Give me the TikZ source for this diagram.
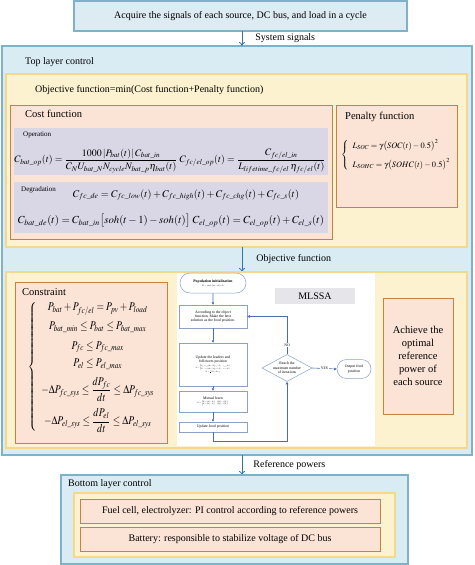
\documentclass[tikz,border=0pt]{standalone}
\usepackage{amsmath}
\usepackage{graphicx}
\usepackage{mathptmx}
\usepackage{fontspec}
\setmainfont{Liberation Serif}
\usetikzlibrary{arrows.meta,shapes.geometric,shapes.misc}
\definecolor{bluefill}{HTML}{DAECF3}
\definecolor{blueline}{HTML}{7DB2C8}
\definecolor{topfill}{HTML}{DDEBF2}
\definecolor{yelfill}{HTML}{FDF2D0}
\definecolor{yelline}{HTML}{F4D88C}
\definecolor{peach}{HTML}{FBE4D6}
\definecolor{brownline}{HTML}{C8823F}
\definecolor{lav}{HTML}{D9D6E6}
\definecolor{arrblue}{HTML}{2E75B6}
\definecolor{flowline}{HTML}{4A6FA5}
\definecolor{flowbox}{HTML}{8CA2C2}
\definecolor{mgray}{HTML}{E6E6EA}
\tikzset{
  box/.style={anchor=north west, inner sep=0pt, outer sep=0pt},
  bluebox/.style={box, fill=bluefill, draw=blueline, line width=1.3pt},
  topbox/.style={box, fill=topfill, draw=blueline, line width=1.3pt},
  yelbox/.style={box, fill=yelfill, draw=yelline, line width=1.2pt},
  peachbox/.style={box, fill=peach, draw=brownline, line width=1pt},
  band/.style={box, fill=lav, draw=none},
  lbl/.style={anchor=west, inner sep=0pt, font=\fontsize{10}{12}\selectfont},
  arr/.style={draw=arrblue, line width=0.8pt, -{To[length=4pt,width=6pt]}},
  fbox/.style={draw=flowbox, fill=white, line width=0.5pt, minimum width=68pt, inner sep=1pt, align=center, font=\fontsize{3.8}{4.4}\selectfont},
  farr/.style={draw=flowline, line width=0.6pt, -{Triangle[length=2.5pt,width=2.5pt]}},
}
\begin{document}
\begin{tikzpicture}[x=1pt,y=-1pt]
\useasboundingbox (0,0) rectangle (474,565);
% top box
\node[topbox, minimum width=333pt, minimum height=30pt] (top) at (74,1) {};
\node[font=\fontsize{10}{12}\selectfont] (toptxt) at (top.center) {Acquire the signals of each source, DC bus, and load in a cycle};
% outer top layer
\node[bluebox, minimum width=470pt, minimum height=409pt] (outer) at (2,46) {};
\node[lbl] (tlc) at (25,62) {Top layer control};
\coordinate (a1) at (242,31);
\draw[arr] (a1) -- (a1 |- outer.north) node[lbl, pos=0.5, xshift=13pt] {System signals};
% yellow 1
\node[yelbox, minimum width=461pt, minimum height=173pt] (yel1) at (6,74) {};
\node[lbl] (obj) at (35,90) {Objective function=min(Cost function+Penalty function)};
% cost
\node[peachbox, minimum width=322pt, minimum height=134pt] (cost) at (10,105) {};
\node[lbl, font=\fontsize{10.5}{12}\selectfont] (costt) at (25,114) {Cost function};
\node[band, minimum width=314pt, minimum height=47pt] (op) at (14,128) {};
\node[band, minimum width=314pt, minimum height=51pt] (deg) at (14,182) {};
\node[lbl, font=\fontsize{7}{8}\selectfont] (opt) at (23,135) {Operation};
\node[lbl, font=\fontsize{7}{8}\selectfont] (degt) at (21,190) {Degradation};
\node[inner sep=0pt] (opeq) at (170,161) {\resizebox{311pt}{!}{$\displaystyle C_{bat\_op}(t)=\frac{1000\left|P_{bat}(t)\right|C_{bat\_in}}{C_N U_{bat\_N}N_{cycle}N_{bat\_p}\eta_{bat}(t)}\;C_{fc/el\_op}(t)=\frac{C_{fc/el\_in}}{L_{lifetime\_fc/el}\,\eta_{fc/el}(t)}$}};
\node[inner sep=0pt] (deq1) at (186,195) {\resizebox{226pt}{!}{$C_{fc\_de}=C_{fc\_low}(t)+C_{fc\_high}(t)+C_{fc\_chg}(t)+C_{fc\_s}(t)$}};
\node[inner sep=0pt] (deq2) at (171,221) {\resizebox{306pt}{!}{$C_{bat\_de}(t)=C_{bat\_in}\bigl[soh(t-1)-soh(t)\bigr]\;C_{el\_op}(t)=C_{el\_op}(t)+C_{el\_s}(t)$}};
% penalty
\node[peachbox, minimum width=121pt, minimum height=102pt] (pen) at (336,105) {};
\node[lbl, font=\fontsize{10.5}{12}\selectfont] (pent) at (345,117) {Penalty function};
\node[inner sep=0pt] (peneq) at (398,155) {\resizebox{114pt}{!}{$\left\{\begin{array}{l}L_{SOC}=\gamma\bigl(SOC(t)-0.5\bigr)^2\\[9pt] L_{SOHC}=\gamma\bigl(SOHC(t)-0.5\bigr)^2\end{array}\right.$}};
% arrow 2
\coordinate (a2) at (242,247);
\draw[arr] (a2) -- (a2 |- 0,272) coordinate (a2e) node[lbl, pos=0.5, xshift=14pt] {Objective function};
% yellow 2
\node[yelbox, minimum width=461pt, minimum height=176pt] (yel2) at (6,272) {};
\node[box, fill=white, minimum width=198pt, minimum height=173pt] (white) at (177,273) {};
% constraint
\node[peachbox, minimum width=152pt, minimum height=161pt] (con) at (15,282) {};
\node[lbl, font=\fontsize{10.5}{12}\selectfont] (cont) at (22,292) {Constraint};
\node[inner sep=0pt] (coneq) at (94,367) {\resizebox*{132pt}{132pt}{$\left\{\begin{array}{c}P_{bat}+P_{fc/el}=P_{pv}+P_{load}\\[4pt] P_{bat\_min}\le P_{bat}\le P_{bat\_max}\\[4pt] P_{fc}\le P_{fc\_max}\\[3pt] P_{el}\le P_{el\_max}\\[5pt] -\Delta P_{fc\_sys}\le\dfrac{dP_{fc}}{dt}\le\Delta P_{fc\_sys}\\[9pt] -\Delta P_{el\_sys}\le\dfrac{dP_{el}}{dt}\le\Delta P_{el\_sys}\end{array}\right.$}};
% achieve
\node[peachbox, minimum width=70pt, minimum height=116pt] (ach) at (383,298) {};
\node[align=center, font=\fontsize{10.5}{13}\selectfont, inner sep=0pt] (acht) at (ach.center) {Achieve the\\optimal\\reference\\power of\\each source};
% flowchart
\node[draw=none, fill=mgray, minimum width=80pt, minimum height=16pt, font=\fontsize{10}{12}\selectfont, inner sep=0pt] (mlssa) at (315,296) {MLSSA};
\node[fbox, rounded rectangle, minimum width=68pt, minimum height=20pt] (pop) at (213,283) {\textbf{Population initialization}\\[-0.5pt]\scalebox{0.55}{$X_i=rand\cdot(ub-lb)+lb$}};
\node[fbox, minimum height=23pt] (acc) at (213,316.5) {According to the object\\function, Make the best\\solution as the food position.};
\node[fbox, minimum height=43pt] (upd) at (213,364.5) {Update the leaders and\\followers position\\[1pt]\scalebox{0.5}{$X_i=\begin{cases}X_j+c_1\bigl((ub-lb)c_2+lb\bigr) & c_3\ge 0.5\\ X_j-c_1\bigl((ub-lb)c_2+lb\bigr) & c_3<0.5\end{cases}$}\\[0pt]\scalebox{0.5}{$X_i=\tfrac{1}{2}(X_i+X_{i-1})$}};
\node[fbox, minimum height=21pt] (mut) at (213,401.5) {Mutual learn\\[-0.5pt]\scalebox{0.5}{$X_i=\begin{cases}X_i+r(X_i-X_j) & f(X_i)<f(X_j)\\ X_i+r(X_j-X_i) & f(X_i)>f(X_j)\end{cases}$}};
\node[fbox, minimum height=10pt] (food) at (213,427) {Update food position};
\node[fbox, diamond, aspect=1.85, minimum width=50pt, minimum height=27pt, inner sep=0pt] (dia) at (287,368) {Reach the\\maximum number\\of iterations};
\node[fbox, rounded rectangle, minimum width=36pt, minimum height=19pt] (out) at (354,369) {Output food\\position};
\draw[farr] (pop) -- (acc);
\draw[farr] (acc) -- (upd);
\draw[farr] (upd) -- (mut);
\draw[farr] (mut) -- (food);
\coordinate (lp) at (213,441);
\draw[farr] (food.south) -- (lp) -| (dia.south);
\draw[farr] (dia.north) |- (acc.east) node[pos=0.12, fill=white, inner sep=0.5pt, font=\fontsize{3.8}{4.4}\selectfont] {NO};
\draw[farr] (dia.east) -- node[fill=white, inner sep=0.5pt, font=\fontsize{3.8}{4.4}\selectfont] {YES} (out.west);
% arrow 3
\coordinate (a3) at (242,455);
\draw[arr] (a3) -- (a3 |- 0,475) node[lbl, pos=0.5, xshift=11pt] {Reference powers};
% bottom layer
\node[bluebox, minimum width=347pt, minimum height=89pt] (bot) at (61,475) {};
\node[lbl] (blc) at (68,484) {Bottom layer control};
\node[yelbox, minimum width=321pt, minimum height=64pt] (yel3) at (74,493) {};
\node[peachbox, minimum width=300pt, minimum height=24pt] (fuel) at (80,499) {};
\node[font=\fontsize{10}{12}\selectfont, inner sep=0pt] (fuelt) at (fuel.center) {Fuel cell, electrolyzer: PI control according to reference powers};
\node[peachbox, minimum width=300pt, minimum height=24pt] (bat) at (80,527) {};
\node[font=\fontsize{10}{12}\selectfont, inner sep=0pt] (batt) at (bat.center) {Battery: responsible to stabilize voltage of DC bus};
\end{tikzpicture}
\end{document}
